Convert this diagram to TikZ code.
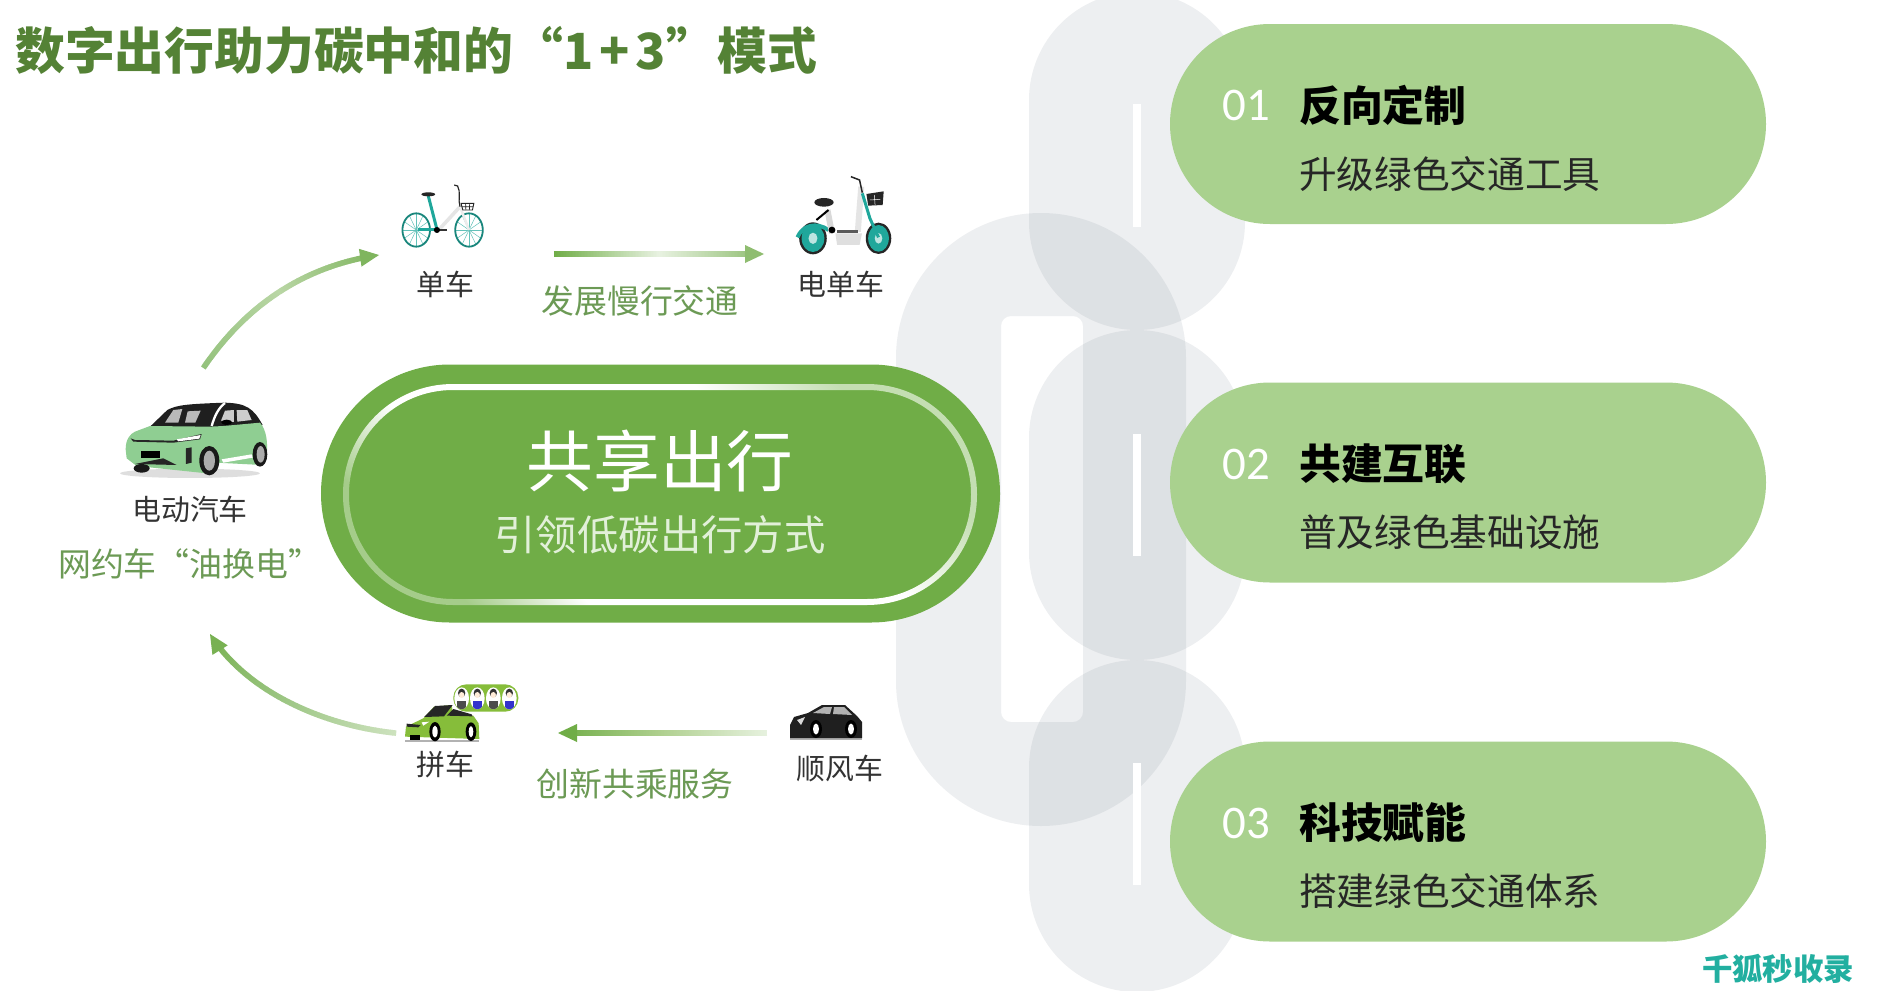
\documentclass[tikz,border=0pt]{standalone}
\usepackage{fontspec}
\setmainfont{Noto Sans CJK SC}
\newfontfamily\numfont{Carlito}
\usetikzlibrary{decorations.markings,calc}
\definecolor{mainG}{HTML}{70AD47}
\definecolor{pillG}{HTML}{A9D18E}
\definecolor{titleG}{HTML}{548235}
\definecolor{labelG}{HTML}{6C9A55}
\definecolor{subG}{HTML}{E2F0D9}
\definecolor{linkC}{RGB}{113,125,140}
\definecolor{teal1}{HTML}{1FA79B}
\definecolor{wm}{HTML}{22AFA0}
\definecolor{carG}{HTML}{8FCE92}
\definecolor{smallG}{HTML}{86BD3A}
\definecolor{aS}{HTML}{94C27C}\definecolor{aM}{HTML}{B9D6A5}\definecolor{aE}{HTML}{7FB55E}
\definecolor{bS}{HTML}{70AD47}\definecolor{bM}{HTML}{E8F2E1}\definecolor{bE}{HTML}{8FBD70}
\definecolor{cS}{HTML}{E6F1DE}\definecolor{cM}{HTML}{B0D090}\definecolor{cE}{HTML}{70AD47}
\definecolor{dS}{HTML}{CDE2BE}\definecolor{dM}{HTML}{A0C888}\definecolor{dE}{HTML}{78B152}
\definecolor{ringLow}{HTML}{A5CC8A}
\definecolor{ringHigh}{HTML}{C4DEB2}
\pgfdeclareverticalshading{ringshade}{100bp}{color(0bp)=(ringLow); color(25bp)=(ringLow); color(35bp)=(white); color(62bp)=(white); color(74bp)=(ringHigh); color(100bp)=(ringHigh)}
\newcommand{\gradhead}[3]{%
  \coordinate (hb) at ($(#1)!19bp!(#2)$);
  \fill[#3] (#1) -- ($(hb)!9bp!90:(#1)$) -- ($(hb)!9bp!-90:(#1)$) -- cycle;}
\tikzset{
  x=1bp,y=-1bp,
  link/.style={fill=linkC,fill opacity=.12},
  whitebar/.style={fill=white},
  pill/.style={fill=pillG,minimum width=596bp,minimum height=200bp,rounded corners=100bp,inner sep=0},
  numtxt/.style={text=white,inner sep=0,font=\numfont\fontsize{47}{47}\selectfont},
  headtxt/.style={anchor=west,inner sep=0,text=black,font=\bfseries\fontsize{42}{42}\selectfont},
  subtxt/.style={anchor=west,inner sep=0,text=black!85,font=\fontsize{37.8}{38}\selectfont},
  veh/.style={inner sep=0,text=black!80,font=\fontsize{29}{29}\selectfont},
  svc/.style={inner sep=0,text=labelG,font=\fontsize{33}{33}\selectfont},
  gradarrow/.style n args={3}{decorate,decoration={markings,
    mark=between positions 0 and 0.95 step 1.5bp with {
      \pgfmathsetmacro\gt{\pgfkeysvalueof{/pgf/decoration/mark info/distance from start}/\pgfdecoratedpathlength*100}
      \ifdim\gt pt<50pt
        \pgfmathsetmacro\gu{2*\gt}\colorlet{gc}{#2!\gu!#1}
      \else
        \pgfmathsetmacro\gu{2*\gt-100}\colorlet{gc}{#3!\gu!#2}
      \fi
      \draw[gc,line width=5.5bp] (-1.2,0)--(.9,0);
    }
  }},
  wheelspoke/.style={line width=.5bp,teal1!70},
}
\begin{document}
\begin{tikzpicture}
\useasboundingbox (0,0) rectangle (1881,990);
\fill[white] (0,0) rectangle (1881,990);
% chain links
\path[link,rounded corners=108bp] (1029,-8) rectangle (1245,330);
\path[link,rounded corners=108bp] (1029,330) rectangle (1245,660);
\path[link,rounded corners=108bp] (1029,660) rectangle (1245,992);
\path[link,even odd rule] (896,213) [rounded corners=145bp] rectangle (1186,826)
   (1001,316) [rounded corners=10bp] rectangle (1083,722);
% white bars
\fill[whitebar] (1133,104) rectangle (1141,227);
\fill[whitebar] (1133,434) rectangle (1141,556);
\fill[whitebar] (1133,763) rectangle (1141,885);
% right pills
\node[pill] (p1) at (1468,124) {};
\node[pill] (p2) at (1468,482.5) {};
\node[pill] (p3) at (1468,841.5) {};
\node[numtxt] (n1) at (1246,105) {01};
\node[numtxt] (n2) at (1246,464) {02};
\node[numtxt] (n3) at (1246,823) {03};
\node[headtxt] (h1) at (1299,105) {反向定制};
\node[headtxt] (h2) at (1299,464) {共建互联};
\node[headtxt] (h3) at (1299,823) {科技赋能};
\node[subtxt] (s1) at (1299,174) {升级绿色交通工具};
\node[subtxt] (s2) at (1299,532) {普及绿色基础设施};
\node[subtxt] (s3) at (1299,891) {搭建绿色交通体系};
% main pill
\node[fill=mainG,minimum width=679bp,minimum height=258bp,rounded corners=129bp,inner sep=0] (main) at (660.5,493.5) {};
\shade[even odd rule,shading=ringshade,shading angle=-45]
  (343,384) [rounded corners=110bp] rectangle (977,605)
  (349,390) [rounded corners=104bp] rectangle (971,599);
\node[inner sep=0,text=white,font=\fontsize{67}{67}\selectfont] (mt) at (660,461) {共享出行};
\node[inner sep=0,text=subG,font=\fontsize{41.5}{42}\selectfont] (ms) at (660,535) {引领低碳出行方式};
% title
\node[anchor=west,inner sep=0,text=titleG,font=\bfseries\fontsize{50}{50}\selectfont] (title) at (15,50) {数字出行助力碳中和的“1\kern6bp+\kern6bp3”\kern2bp模式};
% labels
\node[veh] (l1) at (445,284) {单车};
\node[veh] (l2) at (841,284) {电单车};
\node[veh] (l3) at (190,509) {电动汽车};
\node[veh] (l4) at (445,764) {拼车};
\node[veh] (l5) at (840,768) {顺风车};
\node[svc] (v1) at (640,301) {发展慢行交通};
\node[svc,anchor=west] (v2) at (58,564) {网约车“油换电”};
\node[svc] (v3) at (635,784) {创新共乘服务};
\node[inner sep=0,text=wm,font=\bfseries\fontsize{30.5}{31}\selectfont] (wmk) at (1778,969) {千狐秒收录};
% arrows
\coordinate (a1s) at (204,367); \coordinate (a1c) at (250,300); \coordinate (a1d) at (310,265); \coordinate (a1e) at (379,255);
\coordinate (a2s) at (555,254); \coordinate (a2e) at (764,254);
\coordinate (a3s) at (766,733); \coordinate (a3e) at (558,733);
\coordinate (a4s) at (395,733); \coordinate (a4c) at (320,725); \coordinate (a4d) at (245,690); \coordinate (a4e) at (210,634);
\path[gradarrow={aS}{aM}{aE}] (a1s) .. controls (a1c) and (a1d) .. (a1e);
\gradhead{a1e}{a1d}{aE}
\path[gradarrow={bS}{bM}{bE}] (a2s) -- (a2e);
\gradhead{a2e}{a2s}{bE}
\path[gradarrow={cS}{cM}{cE}] (a3s) -- (a3e);
\gradhead{a3e}{a3s}{cE}
\path[gradarrow={dS}{dM}{dE}] (a4s) .. controls (a4c) and (a4d) .. (a4e);
\gradhead{a4e}{a4d}{dE}
% bicycle
\begin{scope}[shift={(380,150)},x=.345bp,y=-.3333bp]
 \foreach \cx in {105,258}{
  \foreach \a in {0,30,...,330}{\draw[wheelspoke] (\cx,240)--+({40*cos(\a)},{50*sin(\a)});}
  \draw[teal1!80!black,line width=1.8bp] (\cx,240) ellipse [x radius=40,y radius=50];
 }
 \draw[gray!20,line width=3.5bp] (232,170)--(170,240);
 \draw[gray!15,line width=2.5bp] (232,170)--(258,240);
 \draw[teal1,line width=3bp] (140,138)--(165,238);
 \draw[teal1,line width=3bp] (110,240)--(165,240);
 \draw[black!80,line width=1.2bp] (165,240)--(195,240);
 \fill[black] (165,240) circle [x radius=9,y radius=9];
 \fill[black!85] (140,133) ellipse [x radius=20,y radius=6];
 \draw[black!85,line width=1.2bp] (232,170) .. controls (225,150) and (235,125) .. (225,108)--(215,105);
 \draw[black!85,fill=white,line width=.9bp] (235,160)--(272,160)--(268,180)--(240,180)--cycle;
 \draw[black!85,line width=.7bp] (236,170)--(270,170) (248,160)--(249,180) (260,160)--(259,180);
\end{scope}
% e-bike
\begin{scope}[shift={(380,150)},x=.345bp,y=-.3333bp]
 \fill[black!85] (1255,265) ellipse [x radius=40,y radius=48];
 \fill[teal1] (1255,265) ellipse [x radius=33,y radius=41];
 \fill[white!70!teal1] (1255,265) ellipse [x radius=13,y radius=17];
 \fill[black!85] (1445,265) ellipse [x radius=37,y radius=47];
 \fill[teal1] (1445,265) ellipse [x radius=30,y radius=40];
 \fill[white!70!teal1] (1445,265) ellipse [x radius=11,y radius=16];
 \draw[teal1,line width=4bp] (1210,262) .. controls (1225,225) and (1265,215) .. (1300,240);
 \draw[gray!30,line width=6bp] (1297,180)--(1310,250);
 \draw[gray!20,line width=6bp] (1395,110)--(1385,245);
 \draw[teal1,line width=3bp] (1398,130)--(1420,205)--(1445,262);
 \fill[gray!25] (1320,250)--(1397,250)--(1390,285)--(1325,285)--cycle;
 \fill[black!65] (1325,240) rectangle (1385,250);
 \draw[black,line width=2bp] (1265,210)--(1300,180);
 \fill[black!85] (1287,157) ellipse [x radius=28,y radius=13];
 \draw[black!85,line width=1.5bp] (1365,80)--(1390,90)--(1398,128);
 \fill[black!85] (1410,132)--(1460,124)--(1457,165)--(1415,167)--cycle;
 \draw[white,line width=.5bp] (1420,150)--(1450,148) (1433,135)--(1435,165);
 \fill[black] (1310,240) circle [x radius=10,y radius=10];
\end{scope}
% electric car
\begin{scope}[shift={(110,390)},x=.3333bp,y=-.3333bp]
 \fill[black!25,opacity=.5] (240,250) ellipse [x radius=210,y radius=14];
 \fill[black!88] (118,112)--(172,60) .. controls (200,45) and (230,42) .. (345,38) .. controls (410,40) and (430,55) .. (458,105)--(330,118)--cycle;
 \fill[carG] (47,178) .. controls (47,148) and (60,132) .. (75,125)--(120,108)--(300,110)--(340,108)--(450,98) .. controls (470,120) and (474,160) .. (470,195)--(455,225)--(320,218)--(290,250)--(80,228)--(50,205)--cycle;
 \fill[gray!55] (165,98)--(190,60)--(217,57)--(205,98)--cycle;
 \fill[gray!55] (225,98)--(233,64)--(272,62)--(256,98)--cycle;
 \fill[gray!40] (333,92)--(345,62)--(372,60)--(372,96)--cycle;
 \fill[gray!40] (382,95)--(380,60)--(412,60)--(425,90)--cycle;
 \draw[white,line width=2.3bp] (345,39) .. controls (325,55) and (315,75) .. (305,108);
 \fill[black] (350,97) ellipse [x radius=16,y radius=8];
 \fill[black!85] (62,145)--(75,150)--(190,152)--(275,132)--(270,148)--(190,158)--(70,155)--cycle;
 \fill[white] (200,148)--(272,135)--(268,146)--(205,154)--cycle;
 \fill[black] (92,182) rectangle (150,205);
 \fill[black!85] (75,222)--(160,205)--(200,225)--cycle;
 \fill[black!85] (228,175)--(245,172)--(245,218)--(228,222)--cycle;
 \fill[white] (335,208)--(425,193)--(428,203)--(340,218)--cycle;
 \fill[black!90] (95,235) ellipse [x radius=24,y radius=13];
 \fill[black!90] (298,212) ellipse [x radius=30,y radius=44];
 \fill[gray!65] (298,212) ellipse [x radius=17,y radius=30];
 \fill[black!90] (450,193) ellipse [x radius=22,y radius=37];
 \fill[gray!65] (452,193) ellipse [x radius=12,y radius=25];
\end{scope}
% carpool car with passengers
\begin{scope}[shift={(390,675)},x=.3333bp,y=-.3333bp]
 \fill[smallG,rounded corners=13bp] (190,28) rectangle (385,110);
 \foreach \px/\cl in {215/black!70,262/blue!60!gray,310/black!70,358/blue!60!gray}{
  \fill[white] (\px,70) ellipse [x radius=22,y radius=33];
  \begin{scope}
   \clip (\px,70) ellipse [x radius=22,y radius=33];
   \fill[\cl] (\px-14,78) rectangle (\px+14,105);
   \fill[black!80] (\px,54) ellipse [x radius=11,y radius=13];
   \fill[orange!15] (\px,60) ellipse [x radius=8,y radius=9];
  \end{scope}
 }
 \fill[gray!60] (45,196) rectangle (268,200);
 \fill[smallG] (45,185)--(48,155)--(100,130)--(132,95)--(185,90)--(190,120)--(250,122)--(266,145)--(268,192)--cycle;
 \fill[black!85] (102,126)--(135,93)--(188,90)--(162,124)--cycle;
 \fill[black!85] (170,122)--(190,102)--(245,118)--(248,124)--cycle;
 \fill[black!85] (50,146)--(92,150)--(85,157)--(50,155)--cycle;
 \fill[white] (95,142)--(118,140)--(100,152)--cycle;
 \fill[black] (60,180) rectangle (90,196);
 \fill[black] (135,170) ellipse [x radius=17,y radius=29];
 \fill[white] (135,170) ellipse [x radius=8,y radius=18];
 \fill[black] (243,170) ellipse [x radius=16,y radius=28];
 \fill[white] (243,170) ellipse [x radius=7,y radius=17];
\end{scope}
% black car
\fill[gray!60] (790,738) rectangle (862,740);
\fill[black!88] (790,725)--(794,717)--(808,713)--(822,705)--(845,705)--(857,716)--(862,722)--(862,738)--(790,738)--cycle;
\fill[gray!60] (813,713)--(824,707)--(832,707)--(830,714)--cycle;
\fill[gray!60] (834,707)--(844,707)--(852,715)--(833,714)--cycle;
\fill[white!85!black] (797,720)--(805,717)--(801,725)--cycle;
\fill[black] (816,729) ellipse [x radius=6,y radius=9];
\fill[white] (816,729) ellipse [x radius=3,y radius=5.5];
\fill[black] (851,729) ellipse [x radius=6,y radius=9];
\fill[white] (851,729) ellipse [x radius=3,y radius=5.5];
\end{tikzpicture}
\end{document}
